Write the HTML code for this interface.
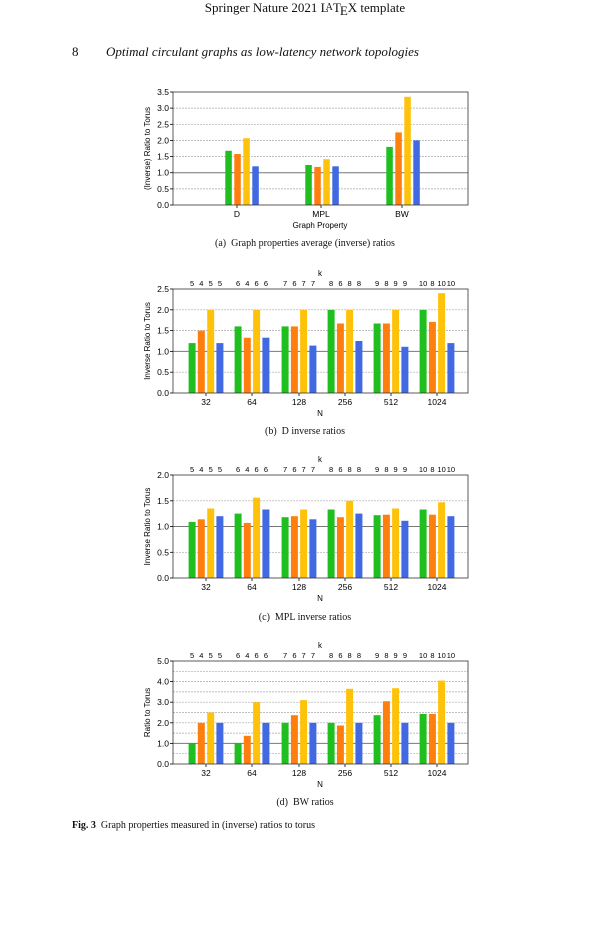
<!DOCTYPE html>
<html><head><meta charset="utf-8"><style>
body{margin:0;background:#fff;width:610px;height:925px;overflow:hidden;position:relative;font-family:"Liberation Serif",serif;}
.t{position:absolute;white-space:nowrap;color:#111}
svg{position:absolute;left:0;top:0}
</style></head><body>
<div class="t" style="left:0;width:610px;text-align:center;top:0px;font-size:13px">Springer Nature 2021 L<span style="font-size:10px;vertical-align:2px;margin-left:-3px">A</span>T<span style="vertical-align:-3px;margin-left:-1px">E</span>X template</div>
<div class="t" style="left:72px;top:44px;font-size:13px">8</div>
<div class="t" style="left:106px;top:44px;font-size:13px;font-style:italic">Optimal circulant graphs as low-latency network topologies</div>
<div class="t" style="left:0;width:610px;text-align:center;top:238px;font-size:10px">(a)&nbsp; Graph properties average (inverse) ratios</div>
<div class="t" style="left:0;width:610px;text-align:center;top:426px;font-size:10px">(b)&nbsp; D inverse ratios</div>
<div class="t" style="left:0;width:610px;text-align:center;top:612px;font-size:10px">(c)&nbsp; MPL inverse ratios</div>
<div class="t" style="left:0;width:610px;text-align:center;top:797px;font-size:10px">(d)&nbsp; BW ratios</div>
<div class="t" style="left:72px;top:820px;font-size:10px"><b>Fig. 3</b>&nbsp; Graph properties measured in (inverse) ratios to torus</div>
<svg id="s" width="610" height="925" xmlns="http://www.w3.org/2000/svg" font-family="Liberation Sans, sans-serif"></svg>
<script>
var C=["#1fbf1f","#ff7f0e","#ffc20a","#4169e1"];
var s="";
function chart(o){
 var L=173,R=468,T=o.T,B=o.B,h=B-T;
 function y(v){return B-v/o.max*h;}
 s+='<rect x="'+L+'" y="'+T+'" width="'+(R-L)+'" height="'+h+'" fill="#fff"/>';
 for(var g=o.gstep;g<o.max-1e-9;g+=o.gstep){
  var yy=y(g).toFixed(1);
  if(Math.abs(g-1)<1e-9) s+='<line x1="'+L+'" x2="'+R+'" y1="'+yy+'" y2="'+yy+'" stroke="#777" stroke-width="1"/>';
  else s+='<line x1="'+L+'" x2="'+R+'" y1="'+yy+'" y2="'+yy+'" stroke="#aaa" stroke-width="0.7" stroke-dasharray="2,1"/>';
 }
 o.g.forEach(function(gr,i){
  var cx=o.cx[i];
  gr.forEach(function(v,j){
   var bx=cx+(j-1.5)*o.p-o.w/2;
   s+='<rect x="'+bx.toFixed(1)+'" y="'+y(v).toFixed(1)+'" width="'+o.w+'" height="'+(B-y(v)).toFixed(1)+'" fill="'+C[j]+'"/>';
   if(o.k) s+='<text x="'+(cx+(j-1.5)*o.p).toFixed(1)+'" y="'+(T-3)+'" font-size="7.5" text-anchor="middle">'+o.k[i][j]+'</text>';
  });
  s+='<line x1="'+o.lx[i]+'" x2="'+o.lx[i]+'" y1="'+B+'" y2="'+(B+3)+'" stroke="#000" stroke-width="0.8"/>';
  s+='<text x="'+o.lx[i]+'" y="'+(B+12)+'" font-size="8.5" text-anchor="middle">'+o.lab[i]+'</text>';
 });
 s+='<rect x="'+L+'" y="'+T+'" width="'+(R-L)+'" height="'+h+'" fill="none" stroke="#333" stroke-width="0.8"/>';
 for(var t=0;t<=o.max+1e-9;t+=o.tstep){
  var yy=y(t).toFixed(1);
  s+='<line x1="'+(L-3)+'" x2="'+L+'" y1="'+yy+'" y2="'+yy+'" stroke="#000" stroke-width="0.8"/>';
  s+='<text x="'+(L-4)+'" y="'+(+yy+3)+'" font-size="8.5" text-anchor="end">'+t.toFixed(1)+'</text>';
 }
 s+='<text transform="translate('+(L-23)+','+((T+B)/2)+') rotate(-90)" font-size="8" text-anchor="middle">'+o.yl+'</text>';
 s+='<text x="320" y="'+(B+23)+'" font-size="8" text-anchor="middle">'+o.xl+'</text>';
 if(o.k) s+='<text x="320" y="'+(T-13)+'" font-size="8" text-anchor="middle">k</text>';
}
var K=[[5,4,5,5],[6,4,6,6],[7,6,7,7],[8,6,8,8],[9,8,9,9],[10,8,10,10]];
var CX=[206,252,299,345,391,437],N=["32","64","128","256","512","1024"];
chart({T:92,B:205,max:3.5,gstep:0.5,tstep:0.5,w:6.5,p:9,cx:[242,322,403],lx:[237,321,402],lab:["D","MPL","BW"],
 g:[[1.68,1.58,2.07,1.2],[1.24,1.18,1.42,1.2],[1.8,2.25,3.35,2.0]],yl:"(Inverse) Ratio to Torus",xl:"Graph Property"});
chart({T:289,B:393,max:2.5,gstep:0.5,tstep:0.5,w:7,p:9.3,cx:CX,lx:CX,lab:N,k:K,
 g:[[1.2,1.5,2,1.2],[1.6,1.33,2,1.33],[1.6,1.6,2,1.14],[2,1.67,2,1.25],[1.67,1.67,2,1.11],[2,1.71,2.4,1.2]],yl:"Inverse Ratio to Torus",xl:"N"});
chart({T:475,B:578,max:2.0,gstep:0.5,tstep:0.5,w:7,p:9.3,cx:CX,lx:CX,lab:N,k:K,
 g:[[1.09,1.14,1.35,1.2],[1.25,1.07,1.56,1.33],[1.18,1.2,1.33,1.14],[1.33,1.18,1.5,1.25],[1.22,1.23,1.35,1.11],[1.33,1.23,1.47,1.2]],yl:"Inverse Ratio to Torus",xl:"N"});
chart({T:661,B:764,max:5.0,gstep:0.5,tstep:1,w:7,p:9.3,cx:CX,lx:CX,lab:N,k:K,
 g:[[1,2,2.5,2],[1,1.37,3,2],[2,2.37,3.1,2],[2,1.87,3.65,2],[2.37,3.05,3.68,2],[2.43,2.43,4.05,2]],yl:"Ratio to Torus",xl:"N"});
document.getElementById("s").innerHTML=s;
</script>
</body></html>
